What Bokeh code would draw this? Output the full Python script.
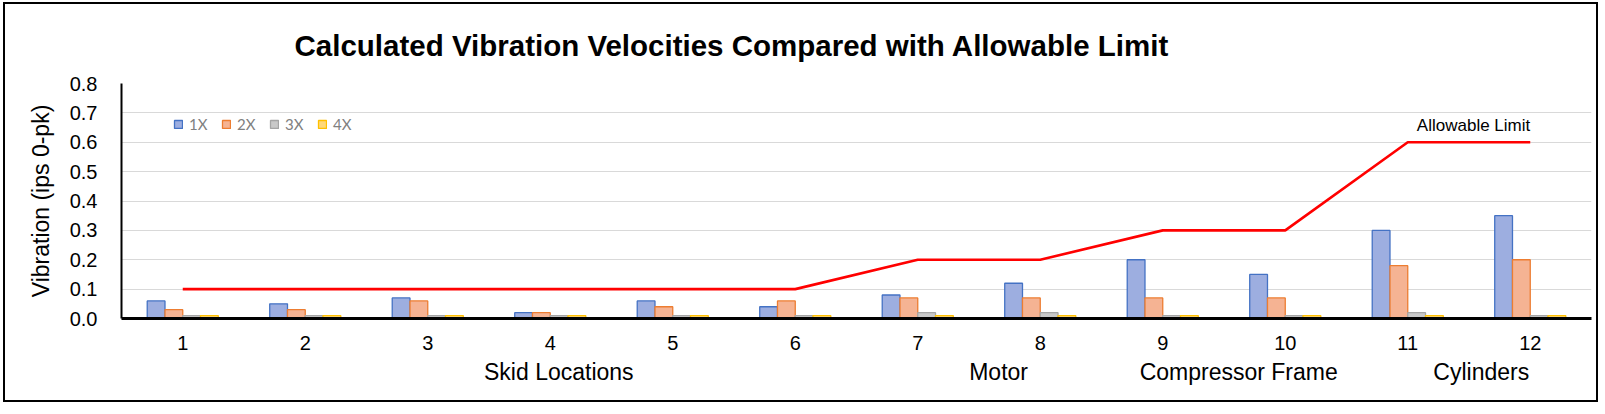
from bokeh.plotting import figure
from bokeh.models import Range1d, FixedTicker, Label, Legend, LegendItem, LinearAxis
from bokeh.embed import file_html
from bokeh.resources import INLINE

# chart data
locations = [1, 2, 3, 4, 5, 6, 7, 8, 9, 10, 11, 12]
tick_labels = [str(v) for v in locations]
harmonics = ["1X", "2X", "3X", "4X"]
vib_1x = [0.06, 0.05, 0.07, 0.02, 0.06, 0.04, 0.08, 0.12, 0.20, 0.15, 0.30, 0.35]
vib_2x = [0.03, 0.03, 0.06, 0.02, 0.04, 0.06, 0.07, 0.07, 0.07, 0.07, 0.18, 0.20]
vib_3x = [0.01, 0.01, 0.01, 0.01, 0.01, 0.01, 0.02, 0.02, 0.01, 0.01, 0.02, 0.01]
vib_4x = [0.01, 0.01, 0.01, 0.01, 0.01, 0.01, 0.01, 0.01, 0.01, 0.01, 0.01, 0.01]
allowable = [0.1, 0.1, 0.1, 0.1, 0.1, 0.1, 0.2, 0.2, 0.3, 0.3, 0.6, 0.6]
groups = ["Skid Locations", "Motor", "Compressor Frame", "Cylinders"]
group_x = [4.07, 7.66, 9.62, 11.60]
y_ticks = [0.0, 0.1, 0.2, 0.3, 0.4, 0.5, 0.6, 0.7, 0.8]

fills = ["#9daee0", "#f5b393", "#c9c9c9", "#ffd97a"]
edges = ["#4472c4", "#ed7d31", "#a5a5a5", "#ffc000"]
FONT = "Liberation Sans"

p = figure(width=1595, height=400, output_backend="svg", toolbar_location=None,
           x_range=Range1d(0.5, 12.5), y_range=Range1d(0, 0.8),
           min_border_left=116, min_border_right=9, min_border_top=79, min_border_bottom=86,
           title="Calculated Vibration Velocities Compared with Allowable Limit")
p.styles = {"border": "2px solid black", "margin": "2px 0 0 3px"}
p.outline_line_color = None
p.xgrid.grid_line_color = None
p.ygrid.grid_line_color = "#d9d9d9"
p.ygrid.grid_line_width = 1

p.title.align = "left"
p.title.offset = 173
p.title.standoff = 39
p.title.vertical_align = "top"
p.title.text_font = FONT
p.title.text_font_size = "29.5px"
p.title.text_font_style = "bold"
p.title.text_color = "black"

bw = 0.145
items = []
for k, (name, vals) in enumerate(zip(harmonics, [vib_1x, vib_2x, vib_3x, vib_4x])):
    xs = [c + (k - 1.5) * bw for c in locations]
    r = p.vbar(x=xs, top=vals, width=bw, fill_color=fills[k], line_color=edges[k], line_width=1.3)
    items.append(LegendItem(label=name, renderers=[r]))

p.line(locations, allowable, line_color="#ff0000", line_width=2.6)
p.add_layout(Label(x=locations[-1], y=allowable[-1] + 0.057, text="Allowable Limit",
                   text_align="right", text_baseline="alphabetic",
                   text_font=FONT, text_font_size="17px", text_color="#000000"))

legend = Legend(items=items, orientation="horizontal", location=(52, 185),
                glyph_width=10, glyph_height=10, label_standoff=6, spacing=12,
                padding=0, margin=0, border_line_color=None, background_fill_alpha=0,
                label_text_font="Lato", label_text_font_size="15px", label_text_color="#808080")
p.add_layout(legend, "center")

p.xaxis.ticker = FixedTicker(ticks=locations)
p.xaxis.major_label_overrides = dict(zip(locations, tick_labels))
p.xaxis.major_tick_line_color = None
p.xaxis.minor_tick_line_color = None
p.xaxis.major_label_standoff = 11
p.xaxis.axis_line_width = 3
p.xaxis.axis_line_color = "black"
p.xaxis.major_label_text_font = FONT
p.xaxis.major_label_text_font_size = "20px"
p.xaxis.major_label_text_color = "black"

# second row of x labels: the location groups
gaxis = LinearAxis(ticker=FixedTicker(ticks=group_x),
                   major_label_overrides=dict(zip(group_x, groups)),
                   axis_line_color=None, major_tick_line_color=None, minor_tick_line_color=None,
                   major_label_standoff=0, major_label_text_font=FONT,
                   major_label_text_font_size="23px", major_label_text_color="black")
p.add_layout(gaxis, "below")

p.yaxis.ticker = FixedTicker(ticks=y_ticks)
p.yaxis.major_label_overrides = {t: "%.1f" % t for t in y_ticks}
p.yaxis.major_tick_line_color = None
p.yaxis.minor_tick_line_color = None
p.yaxis.major_label_standoff = 18
p.yaxis.axis_line_width = 2
p.yaxis.axis_line_color = "black"
p.yaxis.major_label_text_font = FONT
p.yaxis.major_label_text_font_size = "20px"
p.yaxis.major_label_text_color = "black"
p.yaxis.axis_label = "Vibration (ips 0-pk)"
p.yaxis.axis_label_text_font = FONT
p.yaxis.axis_label_text_font_size = "23px"
p.yaxis.axis_label_text_font_style = "normal"
p.yaxis.axis_label_text_color = "black"
p.yaxis.axis_label_standoff = 13

open("out.html", "w").write(file_html(p, INLINE))
